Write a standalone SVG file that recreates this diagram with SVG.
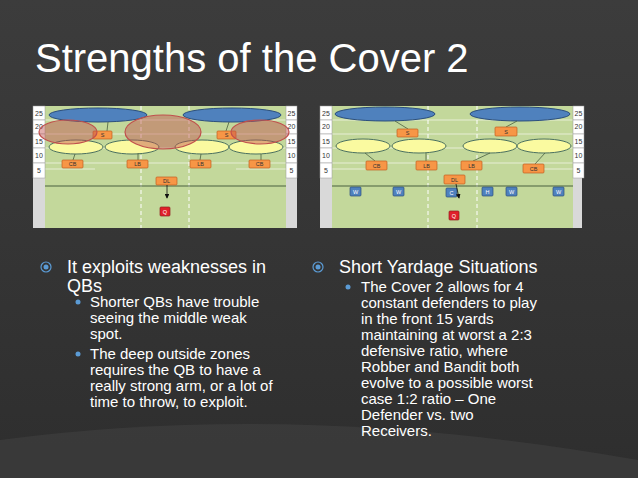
<svg xmlns="http://www.w3.org/2000/svg" width="638" height="478" viewBox="0 0 638 478">
<defs>
<marker id="ah" markerWidth="6" markerHeight="6" refX="5" refY="3" orient="auto"><path d="M0,0L6,3L0,6z" fill="#111"/></marker>
<linearGradient id="bg" x1="0" y1="0" x2="0" y2="1"><stop offset="0" stop-color="#3c3c3c"/><stop offset="1" stop-color="#2e2e2e"/></linearGradient>
</defs>
<style>
.t{font-family:"Liberation Sans",Arial,sans-serif;fill:#fff}
.yn{font-family:"Liberation Sans",Arial,sans-serif;font-size:7px;fill:#333;text-anchor:middle}
.ynb{fill:#fff;stroke:#999;stroke-width:0.5}
.fld{fill:#c3d89b}
.blue{fill:#4f81bd;stroke:#2c4f7c;stroke-width:1}
.red{fill:#c0504d;fill-opacity:0.45;stroke:#c0504d;stroke-width:1.2}
.yel{fill:#fafaa0;stroke:#4a7060;stroke-width:1}
.ob{fill:#f79646;stroke:#c06020;stroke-width:0.7}
.bb{fill:#4f81bd;stroke:#2c4f7c;stroke-width:0.7}
.qb{fill:#e0202a;stroke:#902020;stroke-width:0.7}
.lb{font-family:"Liberation Sans",Arial,sans-serif;font-size:5.5px;fill:#333;text-anchor:middle}
.lw{font-family:"Liberation Sans",Arial,sans-serif;font-size:5.5px;fill:#fff;text-anchor:middle}
.ln{stroke:#4a6040;stroke-width:0.8;fill:none}
.dash{stroke:#fff;stroke-width:1;stroke-dasharray:4,3}
.yl{stroke:#fff;stroke-width:0.6}
.bul{fill:#5b9bd5}
</style>
<rect width="638" height="478" fill="url(#bg)"/>
<path d="M0,440 Q300,400 638,460 L638,478 L0,478z" fill="#444" opacity="0.5"/>
<text class="t" x="35" y="72" font-size="40">Strengths of the Cover 2</text>

<g id="left-diagram">
<rect x="33" y="106" width="264" height="122" fill="#d9d9d9"/>
<rect class="fld" x="45" y="106" width="241" height="122"/>
<g class="yl"><line x1="45" y1="120" x2="286" y2="120"/><line x1="45" y1="134" x2="286" y2="134"/><line x1="45" y1="148" x2="286" y2="148"/><line x1="45" y1="163" x2="286" y2="163"/><line x1="45" y1="169" x2="95" y2="169"/><line x1="236" y1="169" x2="286" y2="169"/></g>
<line class="dash" x1="141" y1="106" x2="141" y2="228"/><line class="dash" x1="189" y1="106" x2="189" y2="228"/>
<line x1="45" y1="186" x2="286" y2="186" stroke="#4a6040" stroke-width="1.2"/>
<g><rect class="ynb" x="33" y="106" width="12" height="14"/><rect class="ynb" x="33" y="120" width="12" height="14"/><rect class="ynb" x="33" y="134" width="12" height="14"/><rect class="ynb" x="33" y="148" width="12" height="15"/><rect class="ynb" x="33" y="163" width="12" height="15"/>
<text class="yn" x="39" y="116">25</text><text class="yn" x="39" y="129">20</text><text class="yn" x="39" y="144">15</text><text class="yn" x="39" y="158">10</text><text class="yn" x="39" y="173">5</text>
<rect class="ynb" x="286" y="106" width="11" height="14"/><rect class="ynb" x="286" y="120" width="11" height="14"/><rect class="ynb" x="286" y="134" width="11" height="14"/><rect class="ynb" x="286" y="148" width="11" height="15"/><rect class="ynb" x="286" y="163" width="11" height="15"/>
<text class="yn" x="291.5" y="116">25</text><text class="yn" x="291.5" y="129">20</text><text class="yn" x="291.5" y="144">15</text><text class="yn" x="291.5" y="158">10</text><text class="yn" x="291.5" y="173">5</text></g>
<ellipse class="blue" cx="98" cy="115" rx="49" ry="7"/><ellipse class="blue" cx="232" cy="115" rx="49" ry="7"/>
<line class="ln" x1="108" y1="122" x2="107" y2="131"/><line class="ln" x1="229" y1="122" x2="226" y2="131"/>
<ellipse class="yel" cx="76" cy="147" rx="27" ry="7"/><ellipse class="yel" cx="132" cy="147" rx="27" ry="7"/><ellipse class="yel" cx="202" cy="147" rx="27" ry="7"/><ellipse class="yel" cx="256" cy="147" rx="27" ry="7"/>
<line class="ln" x1="75" y1="154" x2="73" y2="160"/><line class="ln" x1="138" y1="153" x2="138" y2="160"/><line class="ln" x1="201" y1="154" x2="200" y2="160"/><line class="ln" x1="261" y1="154" x2="261" y2="160"/>
<rect class="ob" x="93" y="131" width="19" height="8" rx="1"/><text class="lb" x="102.5" y="137">S</text>
<rect class="ob" x="217" y="131" width="19" height="8" rx="1"/><text class="lb" x="226.5" y="137">S</text>
<ellipse class="red" cx="68" cy="132" rx="29" ry="12"/><ellipse class="red" cx="163" cy="132" rx="38" ry="17"/><ellipse class="red" cx="260" cy="132" rx="29" ry="12"/>
<rect class="ob" x="62" y="160" width="21" height="8" rx="1"/><text class="lb" x="72.5" y="166">CB</text>
<rect class="ob" x="127" y="160" width="21" height="8" rx="1"/><text class="lb" x="137.5" y="166">LB</text>
<rect class="ob" x="190" y="160" width="21" height="8" rx="1"/><text class="lb" x="200.5" y="166">LB</text>
<rect class="ob" x="249" y="160" width="21" height="8" rx="1"/><text class="lb" x="259.5" y="166">CB</text>
<rect class="ob" x="156" y="177" width="21" height="8" rx="1"/><text class="lb" x="166.5" y="183">DL</text>
<line x1="167" y1="185" x2="167" y2="198" stroke="#111" stroke-width="0.8" marker-end="url(#ah)"/>
<rect class="qb" x="160" y="207" width="10" height="9" rx="1"/><text class="lw" x="165" y="214">Q</text>
</g>

<g id="right-diagram">
<rect x="320" y="106" width="262" height="122" fill="#d9d9d9"/>
<rect class="fld" x="332" y="106" width="241" height="122"/>
<g class="yl"><line x1="332" y1="120" x2="573" y2="120"/><line x1="332" y1="134" x2="573" y2="134"/><line x1="332" y1="148" x2="573" y2="148"/><line x1="332" y1="163" x2="573" y2="163"/><line x1="332" y1="169" x2="380" y2="169"/><line x1="525" y1="169" x2="573" y2="169"/></g>
<line class="dash" x1="428" y1="106" x2="428" y2="228"/><line class="dash" x1="477" y1="106" x2="477" y2="228"/>
<line x1="332" y1="186" x2="573" y2="186" stroke="#4a6040" stroke-width="1.2"/>
<g><rect class="ynb" x="320" y="106" width="12" height="14"/><rect class="ynb" x="320" y="120" width="12" height="14"/><rect class="ynb" x="320" y="134" width="12" height="14"/><rect class="ynb" x="320" y="148" width="12" height="15"/><rect class="ynb" x="320" y="163" width="12" height="15"/>
<text class="yn" x="326" y="116">25</text><text class="yn" x="326" y="129">20</text><text class="yn" x="326" y="144">15</text><text class="yn" x="326" y="158">10</text><text class="yn" x="326" y="173">5</text>
<rect class="ynb" x="573" y="106" width="11" height="14"/><rect class="ynb" x="573" y="120" width="11" height="14"/><rect class="ynb" x="573" y="134" width="11" height="14"/><rect class="ynb" x="573" y="148" width="11" height="15"/><rect class="ynb" x="573" y="163" width="11" height="15"/>
<text class="yn" x="578.5" y="116">25</text><text class="yn" x="578.5" y="129">20</text><text class="yn" x="578.5" y="144">15</text><text class="yn" x="578.5" y="158">10</text><text class="yn" x="578.5" y="173">5</text></g>
<ellipse class="blue" cx="385" cy="114" rx="50" ry="7"/><ellipse class="blue" cx="520" cy="114" rx="50" ry="7"/>
<line class="ln" x1="395" y1="121" x2="408" y2="129"/><line class="ln" x1="517" y1="121" x2="506" y2="127"/>
<ellipse class="yel" cx="363" cy="146" rx="27" ry="7"/><ellipse class="yel" cx="419" cy="146" rx="27" ry="7"/><ellipse class="yel" cx="490" cy="146" rx="27" ry="7"/><ellipse class="yel" cx="544" cy="146" rx="27" ry="7"/>
<line class="ln" x1="365" y1="153" x2="375" y2="161"/><line class="ln" x1="426" y1="153" x2="426" y2="161"/><line class="ln" x1="490" y1="153" x2="473" y2="161"/><line class="ln" x1="545" y1="153" x2="535" y2="164"/>
<rect class="ob" x="397" y="129" width="21" height="8" rx="1"/><text class="lb" x="407.5" y="135">S</text>
<rect class="ob" x="495" y="127" width="22" height="9" rx="1"/><text class="lb" x="506" y="134">S</text>
<rect class="ob" x="366" y="161" width="21" height="9" rx="1"/><text class="lb" x="376.5" y="168">CB</text>
<rect class="ob" x="416" y="161" width="21" height="9" rx="1"/><text class="lb" x="426.5" y="168">LB</text>
<rect class="ob" x="461" y="161" width="21" height="9" rx="1"/><text class="lb" x="471.5" y="168">LB</text>
<rect class="ob" x="523" y="164" width="21" height="9" rx="1"/><text class="lb" x="533.5" y="171">CB</text>
<rect class="ob" x="444" y="175" width="21" height="9" rx="1"/><text class="lb" x="454.5" y="182">DL</text>
<rect class="bb" x="350" y="187" width="11" height="9" rx="1"/><text class="lw" x="355.5" y="194">W</text>
<rect class="bb" x="393" y="187" width="11" height="9" rx="1"/><text class="lw" x="398.5" y="194">W</text>
<rect class="bb" x="446" y="188" width="11" height="9" rx="1"/><text class="lw" x="451.5" y="195">C</text>
<rect class="bb" x="482" y="187" width="11" height="9" rx="1"/><text class="lw" x="487.5" y="194">H</text>
<rect class="bb" x="506" y="187" width="11" height="9" rx="1"/><text class="lw" x="511.5" y="194">W</text>
<rect class="bb" x="553" y="187" width="11" height="9" rx="1"/><text class="lw" x="558.5" y="194">W</text>
<line x1="456" y1="184" x2="459" y2="198" stroke="#111" stroke-width="0.8" marker-end="url(#ah)"/>
<rect class="qb" x="449" y="211" width="10" height="9" rx="1"/><text class="lw" x="454" y="218">Q</text>
</g>

<g id="left-text">
<circle cx="46" cy="267" r="5" fill="none" stroke="#5b9bd5" stroke-width="1.2"/><circle class="bul" cx="46" cy="267" r="2.5"/>
<text class="t" font-size="18"><tspan x="67" y="273">It exploits weaknesses in</tspan><tspan x="67" y="292">QBs</tspan></text>
<circle class="bul" cx="78" cy="302" r="2.5"/><circle class="bul" cx="78" cy="354" r="2.5"/>
<text class="t" font-size="15"><tspan x="90" y="307">Shorter QBs have trouble</tspan><tspan x="90" y="323">seeing the middle weak</tspan><tspan x="90" y="339">spot.</tspan><tspan x="90" y="359">The deep outside zones</tspan><tspan x="90" y="375">requires the QB to have a</tspan><tspan x="90" y="391">really strong arm, or a lot of</tspan><tspan x="90" y="407">time to throw, to exploit.</tspan></text>
</g>
<g id="right-text">
<circle cx="318" cy="267" r="5" fill="none" stroke="#5b9bd5" stroke-width="1.2"/><circle class="bul" cx="318" cy="267" r="2.5"/>
<text class="t" font-size="18"><tspan x="339" y="273">Short Yardage Situations</tspan></text>
<circle class="bul" cx="348" cy="287" r="2.5"/>
<text class="t" font-size="15"><tspan x="361" y="292">The Cover 2 allows for 4</tspan><tspan x="361" y="308">constant defenders to play</tspan><tspan x="361" y="324">in the front 15 yards</tspan><tspan x="361" y="340">maintaining at worst a 2:3</tspan><tspan x="361" y="356">defensive ratio, where</tspan><tspan x="361" y="372">Robber and Bandit both</tspan><tspan x="361" y="388">evolve to a possible worst</tspan><tspan x="361" y="404">case 1:2 ratio – One</tspan><tspan x="361" y="420">Defender vs. two</tspan><tspan x="361" y="436">Receivers.</tspan></text>
</g>
</svg>
